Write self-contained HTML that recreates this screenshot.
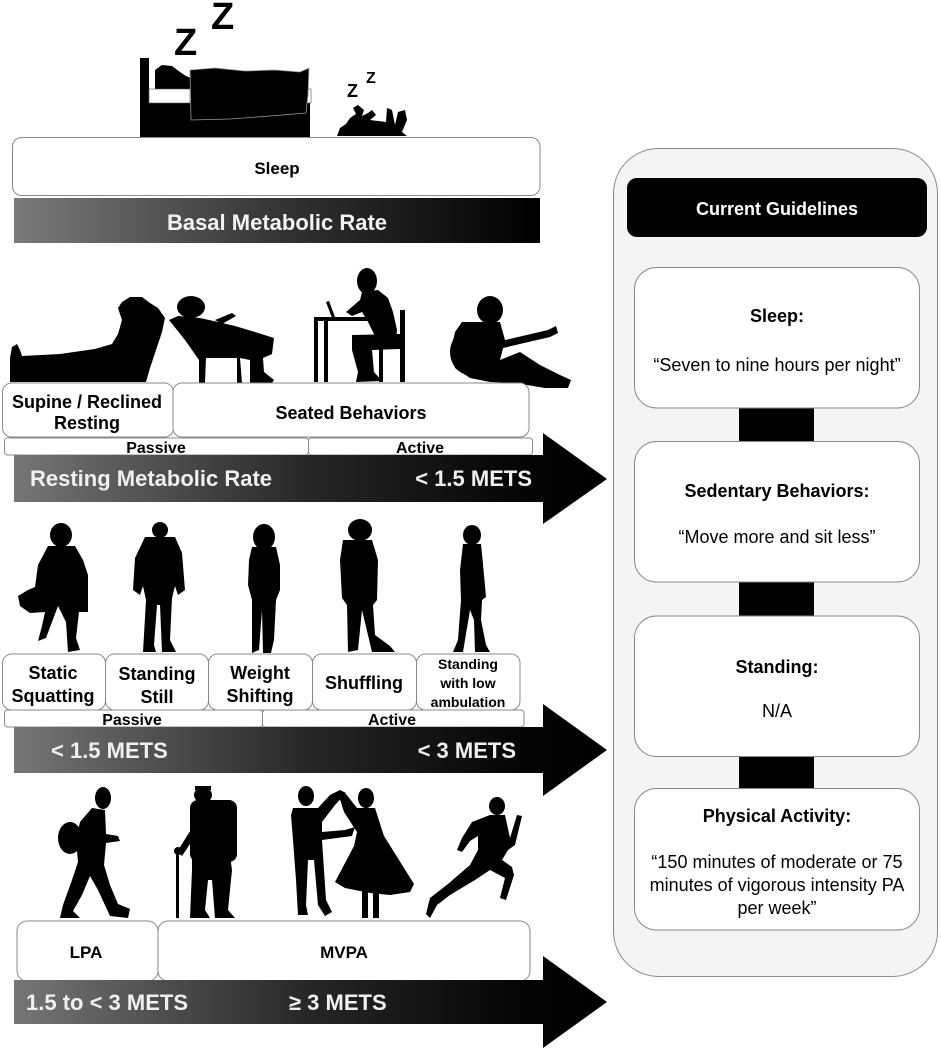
<!DOCTYPE html>
<html><head><meta charset="utf-8">
<style>
html,body{margin:0;padding:0;background:#fff;}
svg{display:block;}
text{font-family:"Liberation Sans",Arial,sans-serif;}
</style></head>
<body>
<svg width="941" height="1050" viewBox="0 0 941 1050" xmlns="http://www.w3.org/2000/svg">
<defs>
<linearGradient id="gBar" x1="0" y1="0" x2="1" y2="0">
<stop offset="0" stop-color="#7a7a7a"/>
<stop offset="0.55" stop-color="#2e2e2e"/>
<stop offset="1" stop-color="#000"/>
</linearGradient>
<linearGradient id="gArr" gradientUnits="userSpaceOnUse" x1="14" y1="0" x2="607" y2="0">
<stop offset="0" stop-color="#767676"/>
<stop offset="0.5" stop-color="#262626"/>
<stop offset="0.85" stop-color="#050505"/>
<stop offset="1" stop-color="#000"/>
</linearGradient>
</defs>

<!-- ================= TOP: SLEEP ================= -->
<text x="174" y="55" font-size="38" font-weight="bold">Z</text>
<text x="211" y="29" font-size="38" font-weight="bold">Z</text>
<text x="347" y="97" font-size="18" font-weight="bold">Z</text>
<text x="366" y="83" font-size="16" font-weight="bold">Z</text>

<!-- bed -->
<rect x="140" y="58" width="9" height="79" fill="#000"/>
<rect x="140" y="100" width="170" height="37" fill="#000"/>
<path d="M155,70 L162,65 L172,66 L180,72 L186,76 L191,78 L191,90 L155,90 Z" fill="#000"/>
<rect x="149" y="89" width="41" height="14" fill="#fff" stroke="#555" stroke-width="0.6"/>
<rect x="306" y="89" width="5" height="14" fill="#fff" stroke="#555" stroke-width="0.6"/>
<path d="M190,70 L215,68 L245,71 L275,70 L300,72 L309,68 L308,95 L306,113 L270,116 L230,119 L191,120 Z" fill="#000" stroke="#999" stroke-width="0.8"/>

<!-- cat -->
<path d="M337,136 L340,128 L346,124 L350,118 L356,114 L353,108 L358,105 L364,110 L362,116 L368,113 L372,110 L376,115 L370,120 L386,122 L387,108 L392,110 L395,125 L398,112 L405,110 L407,120 L402,132 L407,136 Z" fill="#000"/>

<!-- Sleep box -->
<rect x="12.5" y="137.5" width="527.5" height="58" rx="9" fill="#fff" stroke="#8a8a8a" stroke-width="1"/>
<text x="277" y="174" font-size="17" font-weight="bold" text-anchor="middle">Sleep</text>

<!-- BMR bar -->
<rect x="14" y="198" width="526" height="45" fill="url(#gBar)"/>
<text x="277" y="230" font-size="22" font-weight="bold" text-anchor="middle" fill="#f2f2f2">Basal Metabolic Rate</text>

<!-- ================= ROW 2: RESTING ================= -->
<!-- reclining man -->
<path d="M10,358 L12,347 L17,344 L20,350 L22,356 L60,354 L95,349 L112,344 L118,334 L122,320 L118,308 L122,302 L130,297 L142,297 L150,303 L158,308 L165,318 L162,332 L156,350 L150,368 L146,382 L10,382 Z" fill="#000"/>
<!-- reclining chair person -->
<ellipse cx="191" cy="307" rx="14" ry="11" fill="#000"/>
<path d="M169,320 L178,316 L200,318 L218,322 L235,326 L255,332 L274,338 L272,354 L263,358 L264,372 L274,380 L272,383 L250,383 L250,360 L240,358 L242,383 L237,383 L237,358 L206,358 L205,383 L199,383 L199,360 L185,340 Z" fill="#000"/>
<path d="M215,320 L232,313 L236,316 L222,324 Z" fill="#000"/>
<!-- desk person -->
<rect x="314" y="317" width="58" height="4" fill="#000"/>
<rect x="314" y="317" width="4" height="65" fill="#000"/>
<rect x="324" y="317" width="4" height="65" fill="#000"/>
<path d="M326,302 L329,301 L335,317 L332,318 Z" fill="#000"/>
<ellipse cx="367" cy="281" rx="10" ry="13" fill="#000"/>
<path d="M362,292 L378,290 L388,298 L393,312 L397,330 L396,342 L378,342 L368,322 L362,312 L352,316 L346,312 L360,300 Z" fill="#000"/>
<path d="M352,335 L400,334 L400,349 L372,350 L374,372 L382,381 L356,382 L358,372 L352,350 Z" fill="#000"/>
<rect x="400" y="310" width="5" height="72" fill="#000"/>
<rect x="375" y="343" width="30" height="4" fill="#000"/>
<rect x="379" y="345" width="4" height="37" fill="#000"/>
<!-- guitar person -->
<ellipse cx="490" cy="310" rx="13" ry="14" fill="#000"/>
<path d="M462,322 L500,322 L505,340 L500,360 L520,352 L540,365 L560,375 L571,380 L568,388 L545,388 L515,383 L490,382 L470,378 L455,368 L451,350 L455,332 Z" fill="#000"/>
<ellipse cx="470" cy="352" rx="20" ry="23" fill="#000"/>
<path d="M488,344 L548,330 L556,326 L558,333 L550,337 L490,351 Z" fill="#000"/>

<!-- row 2 boxes -->
<rect x="2.5" y="383" width="171" height="54" rx="9" fill="#fff" stroke="#8a8a8a" stroke-width="1"/>
<rect x="173" y="383" width="356" height="54" rx="9" fill="#fff" stroke="#8a8a8a" stroke-width="1"/>
<text x="87" y="408" font-size="18" font-weight="bold" text-anchor="middle">Supine / Reclined</text>
<text x="87" y="429" font-size="18" font-weight="bold" text-anchor="middle">Resting</text>
<text x="351" y="419" font-size="18" font-weight="bold" text-anchor="middle">Seated Behaviors</text>
<rect x="4.5" y="438" width="304" height="17" rx="3" fill="#fff" stroke="#8a8a8a" stroke-width="1"/>
<rect x="308.5" y="438" width="224" height="17" rx="3" fill="#fff" stroke="#8a8a8a" stroke-width="1"/>
<text x="156" y="453" font-size="16" font-weight="bold" text-anchor="middle">Passive</text>
<text x="420" y="453" font-size="16" font-weight="bold" text-anchor="middle">Active</text>

<!-- arrow 1 -->
<path d="M14,455 L543,455 L543,433 L607,479 L543,524 L543,502 L14,502 Z" fill="url(#gArr)"/>
<text x="30" y="486" font-size="22" font-weight="bold" fill="#f0f0f0">Resting Metabolic Rate</text>
<text x="532" y="486" font-size="22" font-weight="bold" fill="#f0f0f0" text-anchor="end">&lt; 1.5 METS</text>

<!-- ================= ROW 3: STANDING ================= -->
<!-- squatting -->
<ellipse cx="61" cy="535" rx="11" ry="12" fill="#000"/>
<path d="M48,546 L75,546 L83,560 L88,575 L88,612 L79,612 L76,638 L80,650 L68,652 L66,622 L58,606 L52,622 L46,638 L38,641 L42,626 L45,612 L30,613 L20,606 L18,596 L28,590 L35,587 L38,565 Z" fill="#000"/>
<!-- standing still -->
<ellipse cx="160" cy="530" rx="8" ry="8" fill="#000"/>
<path d="M145,537 L175,537 L182,553 L185,590 L178,595 L175,586 L172,598 L170,640 L176,652 L162,652 L160,605 L157,605 L154,645 L156,652 L143,652 L146,600 L143,586 L140,595 L133,590 L135,558 Z" fill="#000"/>
<!-- weight shifting -->
<ellipse cx="264" cy="537" rx="11" ry="13" fill="#000"/>
<path d="M252,547 L276,547 L280,565 L280,590 L276,600 L274,640 L271,653 L263,653 L262,610 L259,650 L252,653 L252,600 L248,585 L249,560 Z" fill="#000"/>
<!-- shuffling -->
<ellipse cx="360" cy="530" rx="12" ry="11" fill="#000"/>
<path d="M343,540 L372,540 L378,560 L377,600 L373,605 L375,635 L390,646 L395,652 L372,652 L362,610 L358,650 L348,652 L347,605 L342,598 L340,560 Z" fill="#000"/>
<!-- walking woman -->
<ellipse cx="472" cy="535" rx="9" ry="10" fill="#000"/>
<path d="M463,544 L481,544 L484,575 L486,597 L482,600 L481,620 L486,645 L490,652 L475,652 L474,620 L470,610 L465,640 L463,652 L453,652 L458,640 L461,600 L460,570 Z" fill="#000"/>

<!-- row 3 boxes -->
<rect x="2.5" y="654" width="103" height="56" rx="9" fill="#fff" stroke="#8a8a8a" stroke-width="1"/>
<rect x="105.5" y="654" width="103" height="56" rx="9" fill="#fff" stroke="#8a8a8a" stroke-width="1"/>
<rect x="208.5" y="654" width="104" height="56" rx="9" fill="#fff" stroke="#8a8a8a" stroke-width="1"/>
<rect x="312.5" y="654" width="104" height="56" rx="9" fill="#fff" stroke="#8a8a8a" stroke-width="1"/>
<rect x="416.5" y="654" width="103.5" height="56" rx="9" fill="#fff" stroke="#8a8a8a" stroke-width="1"/>
<text x="53" y="679" font-size="18" font-weight="bold" text-anchor="middle">Static</text>
<text x="53" y="702" font-size="18" font-weight="bold" text-anchor="middle">Squatting</text>
<text x="157" y="680" font-size="18" font-weight="bold" text-anchor="middle">Standing</text>
<text x="157" y="703" font-size="18" font-weight="bold" text-anchor="middle">Still</text>
<text x="260" y="679" font-size="18" font-weight="bold" text-anchor="middle">Weight</text>
<text x="260" y="702" font-size="18" font-weight="bold" text-anchor="middle">Shifting</text>
<text x="364" y="689" font-size="18" font-weight="bold" text-anchor="middle">Shuffling</text>
<text x="468" y="669" font-size="14" font-weight="bold" text-anchor="middle">Standing</text>
<text x="468" y="688" font-size="14" font-weight="bold" text-anchor="middle">with low</text>
<text x="468" y="707" font-size="14" font-weight="bold" text-anchor="middle">ambulation</text>
<rect x="4.5" y="710" width="258" height="17" rx="3" fill="#fff" stroke="#8a8a8a" stroke-width="1"/>
<rect x="262.5" y="710" width="261.5" height="17" rx="3" fill="#fff" stroke="#8a8a8a" stroke-width="1"/>
<text x="132" y="725" font-size="16" font-weight="bold" text-anchor="middle">Passive</text>
<text x="392" y="725" font-size="16" font-weight="bold" text-anchor="middle">Active</text>

<!-- arrow 2 -->
<path d="M14,727 L543,727 L543,704 L607,750 L543,796 L543,773 L14,773 Z" fill="url(#gArr)"/>
<text x="51" y="758" font-size="22" font-weight="bold" fill="#f0f0f0">&lt; 1.5 METS</text>
<text x="516" y="758" font-size="22" font-weight="bold" fill="#f0f0f0" text-anchor="end">&lt; 3 METS</text>

<!-- ================= ROW 4: PA ================= -->
<!-- backpack walker -->
<ellipse cx="103" cy="798" rx="8" ry="11" fill="#000"/>
<ellipse cx="70" cy="838" rx="12" ry="16" fill="#000"/>
<path d="M92,808 L105,810 L106,834 L118,836 L120,841 L106,843 L104,865 L110,885 L118,904 L130,909 L128,918 L110,916 L98,890 L90,876 L82,895 L73,911 L80,918 L60,918 L63,905 L72,880 L78,862 L76,840 L80,822 Z" fill="#000"/>
<!-- hiker -->
<ellipse cx="203" cy="795" rx="9" ry="8" fill="#000"/>
<rect x="195" y="786" width="16" height="4" fill="#000"/>
<rect x="190" y="800" width="47" height="62" rx="8" fill="#000"/>
<rect x="176" y="848" width="3" height="70" fill="#000"/>
<ellipse cx="178" cy="851" rx="4" ry="4" fill="#000"/>
<path d="M192,828 L198,832 L182,856 L177,852 Z" fill="#000"/>
<path d="M192,855 L230,855 L232,870 L228,910 L235,918 L215,918 L212,880 L208,880 L205,910 L210,918 L190,918 L192,870 Z" fill="#000"/>
<!-- dancers -->
<ellipse cx="306" cy="796" rx="8" ry="10" fill="#000"/>
<path d="M293,808 L318,808 L330,795 L340,790 L346,793 L335,805 L322,822 L322,832 L345,830 L355,827 L352,836 L322,840 L326,900 L332,912 L325,916 L318,905 L314,860 L308,860 L306,905 L308,915 L298,915 L296,880 L293,840 L291,815 Z" fill="#000"/>
<ellipse cx="366" cy="798" rx="8" ry="10" fill="#000"/>
<path d="M357,808 L375,808 L382,830 L384,836 L414,884 L410,892 L390,895 L370,893 L345,888 L335,882 L354,846 L357,832 L344,812 L339,796 L346,794 Z" fill="#000"/>
<rect x="362" y="890" width="6" height="28" fill="#000"/>
<rect x="373" y="890" width="6" height="28" fill="#000"/>
<!-- runner -->
<ellipse cx="497" cy="806" rx="8" ry="9" fill="#000"/>
<path d="M490,815 L505,815 L510,838 L517,815 L522,816 L515,845 L508,850 L502,860 L512,867 L514,875 L506,900 L500,898 L505,878 L490,870 L475,880 L450,895 L437,905 L430,918 L426,914 L430,898 L448,884 L470,865 L478,850 L478,836 L470,841 L462,852 L457,850 L462,838 L472,822 Z" fill="#000"/>

<!-- row 4 boxes -->
<rect x="17" y="921" width="141" height="60" rx="10" fill="#fff" stroke="#8a8a8a" stroke-width="1"/>
<rect x="158" y="921" width="372" height="60" rx="10" fill="#fff" stroke="#8a8a8a" stroke-width="1"/>
<text x="86" y="958" font-size="17" font-weight="bold" text-anchor="middle">LPA</text>
<text x="344" y="958" font-size="17" font-weight="bold" text-anchor="middle">MVPA</text>

<!-- arrow 3 -->
<path d="M14,980 L543,980 L543,956 L607,1002 L543,1048 L543,1024 L14,1024 Z" fill="url(#gArr)"/>
<text x="26" y="1010" font-size="22" font-weight="bold" fill="#f0f0f0">1.5 to &lt; 3 METS</text>
<text x="289" y="1010" font-size="22" font-weight="bold" fill="#f0f0f0">≥ 3 METS</text>

<!-- ================= RIGHT PANEL ================= -->
<rect x="613.5" y="148.5" width="324" height="828" rx="45" fill="#f4f4f4" stroke="#8a8a8a" stroke-width="1"/>
<rect x="627" y="178" width="300" height="59" rx="10" fill="#000"/>
<text x="777" y="215" font-size="18" font-weight="bold" fill="#fff" text-anchor="middle">Current Guidelines</text>

<rect x="739" y="407" width="75" height="36" fill="#000"/>
<rect x="739" y="581" width="75" height="36" fill="#000"/>
<rect x="739" y="756" width="75" height="34" fill="#000"/>

<rect x="634.5" y="267.5" width="285" height="140.5" rx="22" fill="#fff" stroke="#8a8a8a" stroke-width="1"/>
<text x="777" y="322" font-size="18" font-weight="bold" text-anchor="middle">Sleep:</text>
<text x="777" y="371" font-size="18" text-anchor="middle">“Seven to nine hours per night”</text>

<rect x="634.5" y="441.5" width="285" height="140.5" rx="22" fill="#fff" stroke="#8a8a8a" stroke-width="1"/>
<text x="777" y="497" font-size="18" font-weight="bold" text-anchor="middle">Sedentary Behaviors:</text>
<text x="777" y="543" font-size="18" text-anchor="middle">“Move more and sit less”</text>

<rect x="634.5" y="616" width="285" height="140.5" rx="22" fill="#fff" stroke="#8a8a8a" stroke-width="1"/>
<text x="777" y="673" font-size="18" font-weight="bold" text-anchor="middle">Standing:</text>
<text x="777" y="717" font-size="18" text-anchor="middle">N/A</text>

<rect x="634.5" y="788.5" width="285" height="141.5" rx="22" fill="#fff" stroke="#8a8a8a" stroke-width="1"/>
<text x="777" y="822" font-size="18" font-weight="bold" text-anchor="middle">Physical Activity:</text>
<text x="777" y="868" font-size="18" text-anchor="middle">“150 minutes of moderate or 75</text>
<text x="777" y="891" font-size="18" text-anchor="middle">minutes of vigorous intensity PA</text>
<text x="777" y="914" font-size="18" text-anchor="middle">per week”</text>
</svg>
</body></html>
